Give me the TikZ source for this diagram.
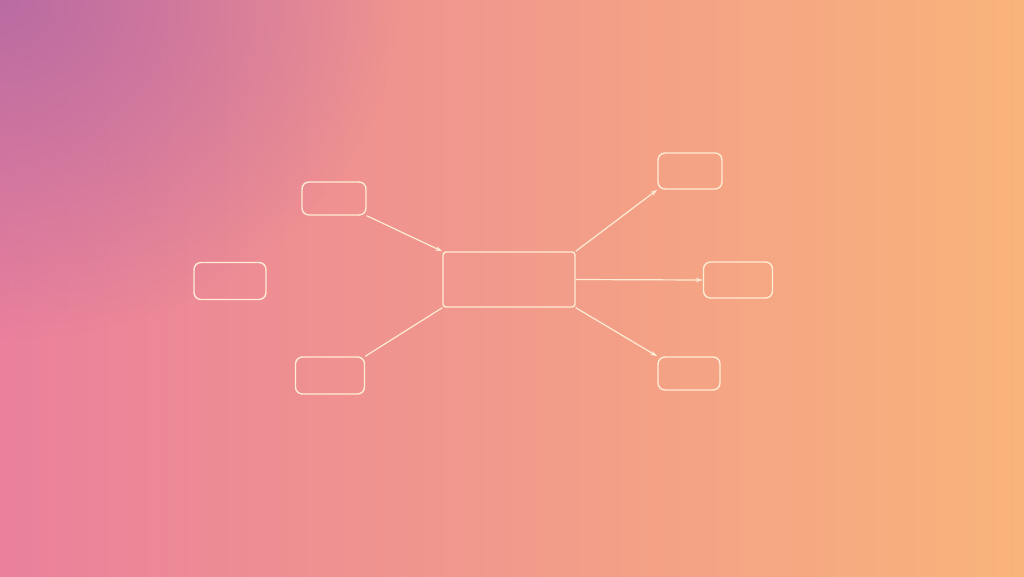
\documentclass[tikz,border=0pt]{standalone}
\usetikzlibrary{arrows.meta,fadings}
\definecolor{leftc}{RGB}{234,128,156}
\definecolor{midc}{RGB}{242,152,134}
\definecolor{rightc}{RGB}{249,180,122}
\definecolor{purp}{RGB}{186,108,162}
\definecolor{ink}{RGB}{255,236,212}
\tikzfading[name=radfade, inner color=transparent!0, outer color=transparent!100]
\begin{document}
\begin{tikzpicture}[x=1pt,y=-1pt,
  box/.style={draw=ink, line width=1.4pt, rounded corners=7pt, inner sep=0pt},
  hub/.style={draw=ink, line width=1.4pt, rounded corners=3pt, inner sep=0pt},
  link/.style={draw=ink, line width=1.2pt},
  tip/.style={-{Stealth[length=7pt,width=4.5pt]}}]
\useasboundingbox (0,0) rectangle (1024,576);
\shade[left color=leftc, middle color=midc, right color=rightc] (0,0) rectangle (1024,576);
\begin{scope}
\clip (0,0) rectangle (1024,576);
\fill[purp, path fading=radfade] (0,0) ellipse [x radius=400pt, y radius=340pt];
\end{scope}
\node[hub, minimum width=132pt, minimum height=55pt] (c) at (509,279.5) {};
\node[box, minimum width=64pt, minimum height=33pt] (tl) at (334,198.5) {};
\node[box, minimum width=72pt, minimum height=37pt] (l) at (230,281) {};
\node[box, minimum width=69pt, minimum height=37pt] (bl) at (330,375.5) {};
\node[box, minimum width=64pt, minimum height=36pt] (tr) at (690,171) {};
\node[box, minimum width=69pt, minimum height=36pt] (r) at (738,280) {};
\node[box, minimum width=62pt, minimum height=33pt] (br) at (689,373.5) {};
\draw[link, tip] (tl.south east) -- (c.north west);
\draw[link, tip] (c.north east) -- (tr.south west);
\draw[link, tip] (c.east) -- (r.west);
\draw[link] (c.south west) -- (bl.north east);
\draw[link, tip] (c.south east) -- (br.north west);
\end{tikzpicture}
\end{document}
